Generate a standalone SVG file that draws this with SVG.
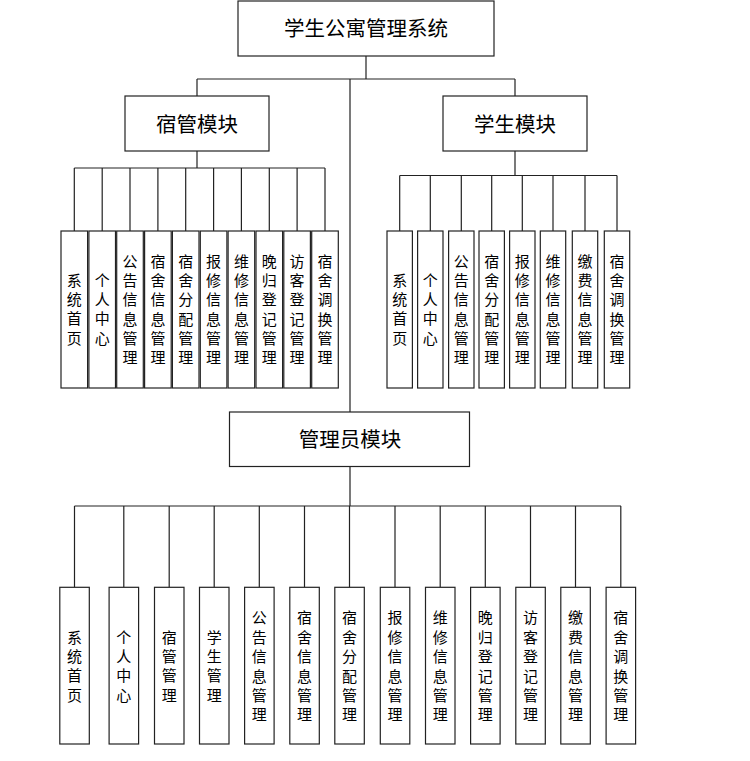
<svg xmlns="http://www.w3.org/2000/svg" width="750" height="761" viewBox="0 0 750 761">
<style>
.box{fill:#fff;stroke:#222;stroke-width:1.2}
.ln{fill:none;stroke:#222;stroke-width:1.2}
.t{font-family:"Noto Sans CJK SC","Noto Sans",sans-serif;font-size:20.5px;fill:#000;text-anchor:middle}
.v{font-family:"Noto Sans CJK SC","Noto Sans",sans-serif;font-size:15px;fill:#000;text-anchor:middle}
</style>
<rect width="750" height="761" fill="#fff"/>
<g id="connectors">
<path class="ln" d="M366 56V79M197 79H515M197 79V96M515 79V96M350 79V412"/>
<path class="ln" d="M197 151V168M74.3 168H325M74.3 168V231M102.2 168V231M130 168V231M157.9 168V231M185.7 168V231M213.6 168V231M241.4 168V231M269.3 168V231M297.1 168V231M325 168V231"/>
<path class="ln" d="M515 151V175.5M399.7 175.5H617M399.7 175.5V231M430.3 175.5V231M461.3 175.5V231M491.7 175.5V231M522.3 175.5V231M553 175.5V231M585 175.5V231M617 175.5V231"/>
<path class="ln" d="M350 466V506M74.5 506H621M74.5 506V587M123.8 506V587M169.2 506V587M214.2 506V587M259.3 506V587M304.5 506V587M349.5 506V587M395 506V587M440.2 506V587M485.3 506V587M530.5 506V587M575.5 506V587M620.8 506V587"/>
</g>
<g id="root"><rect class="box" x="238" y="1" width="256" height="55"/><text class="t" x="366" y="35.6">学生公寓管理系统</text></g>
<g id="dorm"><rect class="box" x="125" y="96" width="144" height="55"/><text class="t" x="197" y="131.6">宿管模块</text></g>
<g id="student"><rect class="box" x="443" y="96" width="144" height="55"/><text class="t" x="515" y="131.6">学生模块</text></g>
<g id="admin"><rect class="box" x="229.5" y="412" width="240" height="54.5"/><text class="t" x="350" y="446.8">管理员模块</text></g>

<g id="d1"><rect class="box" x="61" y="231" width="26.6" height="157"/><text class="v" x="74.3" y="286"><tspan x="74.3">系</tspan><tspan x="74.3" dy="19.2">统</tspan><tspan x="74.3" dy="19.2">首</tspan><tspan x="74.3" dy="19.2">页</tspan></text></g>
<g id="d2"><rect class="box" x="88.9" y="231" width="26.6" height="157"/><text class="v" x="102.2" y="286"><tspan x="102.2">个</tspan><tspan x="102.2" dy="19.2">人</tspan><tspan x="102.2" dy="19.2">中</tspan><tspan x="102.2" dy="19.2">心</tspan></text></g>
<g id="d3"><rect class="box" x="116.7" y="231" width="26.6" height="157"/><text class="v" x="130" y="267"><tspan x="130">公</tspan><tspan x="130" dy="19.2">告</tspan><tspan x="130" dy="19.2">信</tspan><tspan x="130" dy="19.2">息</tspan><tspan x="130" dy="19.2">管</tspan><tspan x="130" dy="19.2">理</tspan></text></g>
<g id="d4"><rect class="box" x="144.6" y="231" width="26.6" height="157"/><text class="v" x="157.9" y="267"><tspan x="157.9">宿</tspan><tspan x="157.9" dy="19.2">舍</tspan><tspan x="157.9" dy="19.2">信</tspan><tspan x="157.9" dy="19.2">息</tspan><tspan x="157.9" dy="19.2">管</tspan><tspan x="157.9" dy="19.2">理</tspan></text></g>
<g id="d5"><rect class="box" x="172.4" y="231" width="26.6" height="157"/><text class="v" x="185.7" y="267"><tspan x="185.7">宿</tspan><tspan x="185.7" dy="19.2">舍</tspan><tspan x="185.7" dy="19.2">分</tspan><tspan x="185.7" dy="19.2">配</tspan><tspan x="185.7" dy="19.2">管</tspan><tspan x="185.7" dy="19.2">理</tspan></text></g>
<g id="d6"><rect class="box" x="200.3" y="231" width="26.6" height="157"/><text class="v" x="213.6" y="267"><tspan x="213.6">报</tspan><tspan x="213.6" dy="19.2">修</tspan><tspan x="213.6" dy="19.2">信</tspan><tspan x="213.6" dy="19.2">息</tspan><tspan x="213.6" dy="19.2">管</tspan><tspan x="213.6" dy="19.2">理</tspan></text></g>
<g id="d7"><rect class="box" x="228.1" y="231" width="26.6" height="157"/><text class="v" x="241.4" y="267"><tspan x="241.4">维</tspan><tspan x="241.4" dy="19.2">修</tspan><tspan x="241.4" dy="19.2">信</tspan><tspan x="241.4" dy="19.2">息</tspan><tspan x="241.4" dy="19.2">管</tspan><tspan x="241.4" dy="19.2">理</tspan></text></g>
<g id="d8"><rect class="box" x="256" y="231" width="26.6" height="157"/><text class="v" x="269.3" y="267"><tspan x="269.3">晚</tspan><tspan x="269.3" dy="19.2">归</tspan><tspan x="269.3" dy="19.2">登</tspan><tspan x="269.3" dy="19.2">记</tspan><tspan x="269.3" dy="19.2">管</tspan><tspan x="269.3" dy="19.2">理</tspan></text></g>
<g id="d9"><rect class="box" x="283.8" y="231" width="26.6" height="157"/><text class="v" x="297.1" y="267"><tspan x="297.1">访</tspan><tspan x="297.1" dy="19.2">客</tspan><tspan x="297.1" dy="19.2">登</tspan><tspan x="297.1" dy="19.2">记</tspan><tspan x="297.1" dy="19.2">管</tspan><tspan x="297.1" dy="19.2">理</tspan></text></g>
<g id="d10"><rect class="box" x="311.7" y="231" width="26.6" height="157"/><text class="v" x="325" y="267"><tspan x="325">宿</tspan><tspan x="325" dy="19.2">舍</tspan><tspan x="325" dy="19.2">调</tspan><tspan x="325" dy="19.2">换</tspan><tspan x="325" dy="19.2">管</tspan><tspan x="325" dy="19.2">理</tspan></text></g>

<g id="s1"><rect class="box" x="387" y="231" width="25.4" height="157"/><text class="v" x="399.7" y="286"><tspan x="399.7">系</tspan><tspan x="399.7" dy="19.2">统</tspan><tspan x="399.7" dy="19.2">首</tspan><tspan x="399.7" dy="19.2">页</tspan></text></g>
<g id="s2"><rect class="box" x="417.6" y="231" width="25.4" height="157"/><text class="v" x="430.3" y="286"><tspan x="430.3">个</tspan><tspan x="430.3" dy="19.2">人</tspan><tspan x="430.3" dy="19.2">中</tspan><tspan x="430.3" dy="19.2">心</tspan></text></g>
<g id="s3"><rect class="box" x="448.6" y="231" width="25.4" height="157"/><text class="v" x="461.3" y="267"><tspan x="461.3">公</tspan><tspan x="461.3" dy="19.2">告</tspan><tspan x="461.3" dy="19.2">信</tspan><tspan x="461.3" dy="19.2">息</tspan><tspan x="461.3" dy="19.2">管</tspan><tspan x="461.3" dy="19.2">理</tspan></text></g>
<g id="s4"><rect class="box" x="479" y="231" width="25.4" height="157"/><text class="v" x="491.7" y="267"><tspan x="491.7">宿</tspan><tspan x="491.7" dy="19.2">舍</tspan><tspan x="491.7" dy="19.2">分</tspan><tspan x="491.7" dy="19.2">配</tspan><tspan x="491.7" dy="19.2">管</tspan><tspan x="491.7" dy="19.2">理</tspan></text></g>
<g id="s5"><rect class="box" x="509.6" y="231" width="25.4" height="157"/><text class="v" x="522.3" y="267"><tspan x="522.3">报</tspan><tspan x="522.3" dy="19.2">修</tspan><tspan x="522.3" dy="19.2">信</tspan><tspan x="522.3" dy="19.2">息</tspan><tspan x="522.3" dy="19.2">管</tspan><tspan x="522.3" dy="19.2">理</tspan></text></g>
<g id="s6"><rect class="box" x="540.3" y="231" width="25.4" height="157"/><text class="v" x="553" y="267"><tspan x="553">维</tspan><tspan x="553" dy="19.2">修</tspan><tspan x="553" dy="19.2">信</tspan><tspan x="553" dy="19.2">息</tspan><tspan x="553" dy="19.2">管</tspan><tspan x="553" dy="19.2">理</tspan></text></g>
<g id="s7"><rect class="box" x="572.3" y="231" width="25.4" height="157"/><text class="v" x="585" y="267"><tspan x="585">缴</tspan><tspan x="585" dy="19.2">费</tspan><tspan x="585" dy="19.2">信</tspan><tspan x="585" dy="19.2">息</tspan><tspan x="585" dy="19.2">管</tspan><tspan x="585" dy="19.2">理</tspan></text></g>
<g id="s8"><rect class="box" x="604.3" y="231" width="25.4" height="157"/><text class="v" x="617" y="267"><tspan x="617">宿</tspan><tspan x="617" dy="19.2">舍</tspan><tspan x="617" dy="19.2">调</tspan><tspan x="617" dy="19.2">换</tspan><tspan x="617" dy="19.2">管</tspan><tspan x="617" dy="19.2">理</tspan></text></g>

<g id="a1"><rect class="box" x="59.8" y="587.3" width="29.5" height="156.7"/><text class="v" x="74.5" y="642.6"><tspan x="74.5">系</tspan><tspan x="74.5" dy="19.4">统</tspan><tspan x="74.5" dy="19.4">首</tspan><tspan x="74.5" dy="19.4">页</tspan></text></g>
<g id="a2"><rect class="box" x="109.1" y="587.3" width="29.5" height="156.7"/><text class="v" x="123.8" y="642.6"><tspan x="123.8">个</tspan><tspan x="123.8" dy="19.4">人</tspan><tspan x="123.8" dy="19.4">中</tspan><tspan x="123.8" dy="19.4">心</tspan></text></g>
<g id="a3"><rect class="box" x="154.5" y="587.3" width="29.5" height="156.7"/><text class="v" x="169.2" y="642.6"><tspan x="169.2">宿</tspan><tspan x="169.2" dy="19.4">管</tspan><tspan x="169.2" dy="19.4">管</tspan><tspan x="169.2" dy="19.4">理</tspan></text></g>
<g id="a4"><rect class="box" x="199.5" y="587.3" width="29.5" height="156.7"/><text class="v" x="214.2" y="642.6"><tspan x="214.2">学</tspan><tspan x="214.2" dy="19.4">生</tspan><tspan x="214.2" dy="19.4">管</tspan><tspan x="214.2" dy="19.4">理</tspan></text></g>
<g id="a5"><rect class="box" x="244.6" y="587.3" width="29.5" height="156.7"/><text class="v" x="259.3" y="623.3"><tspan x="259.3">公</tspan><tspan x="259.3" dy="19.4">告</tspan><tspan x="259.3" dy="19.4">信</tspan><tspan x="259.3" dy="19.4">息</tspan><tspan x="259.3" dy="19.4">管</tspan><tspan x="259.3" dy="19.4">理</tspan></text></g>
<g id="a6"><rect class="box" x="289.8" y="587.3" width="29.5" height="156.7"/><text class="v" x="304.5" y="623.3"><tspan x="304.5">宿</tspan><tspan x="304.5" dy="19.4">舍</tspan><tspan x="304.5" dy="19.4">信</tspan><tspan x="304.5" dy="19.4">息</tspan><tspan x="304.5" dy="19.4">管</tspan><tspan x="304.5" dy="19.4">理</tspan></text></g>
<g id="a7"><rect class="box" x="334.8" y="587.3" width="29.5" height="156.7"/><text class="v" x="349.5" y="623.3"><tspan x="349.5">宿</tspan><tspan x="349.5" dy="19.4">舍</tspan><tspan x="349.5" dy="19.4">分</tspan><tspan x="349.5" dy="19.4">配</tspan><tspan x="349.5" dy="19.4">管</tspan><tspan x="349.5" dy="19.4">理</tspan></text></g>
<g id="a8"><rect class="box" x="380.3" y="587.3" width="29.5" height="156.7"/><text class="v" x="395" y="623.3"><tspan x="395">报</tspan><tspan x="395" dy="19.4">修</tspan><tspan x="395" dy="19.4">信</tspan><tspan x="395" dy="19.4">息</tspan><tspan x="395" dy="19.4">管</tspan><tspan x="395" dy="19.4">理</tspan></text></g>
<g id="a9"><rect class="box" x="425.5" y="587.3" width="29.5" height="156.7"/><text class="v" x="440.2" y="623.3"><tspan x="440.2">维</tspan><tspan x="440.2" dy="19.4">修</tspan><tspan x="440.2" dy="19.4">信</tspan><tspan x="440.2" dy="19.4">息</tspan><tspan x="440.2" dy="19.4">管</tspan><tspan x="440.2" dy="19.4">理</tspan></text></g>
<g id="a10"><rect class="box" x="470.6" y="587.3" width="29.5" height="156.7"/><text class="v" x="485.3" y="623.3"><tspan x="485.3">晚</tspan><tspan x="485.3" dy="19.4">归</tspan><tspan x="485.3" dy="19.4">登</tspan><tspan x="485.3" dy="19.4">记</tspan><tspan x="485.3" dy="19.4">管</tspan><tspan x="485.3" dy="19.4">理</tspan></text></g>
<g id="a11"><rect class="box" x="515.8" y="587.3" width="29.5" height="156.7"/><text class="v" x="530.5" y="623.3"><tspan x="530.5">访</tspan><tspan x="530.5" dy="19.4">客</tspan><tspan x="530.5" dy="19.4">登</tspan><tspan x="530.5" dy="19.4">记</tspan><tspan x="530.5" dy="19.4">管</tspan><tspan x="530.5" dy="19.4">理</tspan></text></g>
<g id="a12"><rect class="box" x="560.8" y="587.3" width="29.5" height="156.7"/><text class="v" x="575.5" y="623.3"><tspan x="575.5">缴</tspan><tspan x="575.5" dy="19.4">费</tspan><tspan x="575.5" dy="19.4">信</tspan><tspan x="575.5" dy="19.4">息</tspan><tspan x="575.5" dy="19.4">管</tspan><tspan x="575.5" dy="19.4">理</tspan></text></g>
<g id="a13"><rect class="box" x="606.1" y="587.3" width="29.5" height="156.7"/><text class="v" x="620.8" y="623.3"><tspan x="620.8">宿</tspan><tspan x="620.8" dy="19.4">舍</tspan><tspan x="620.8" dy="19.4">调</tspan><tspan x="620.8" dy="19.4">换</tspan><tspan x="620.8" dy="19.4">管</tspan><tspan x="620.8" dy="19.4">理</tspan></text></g>
</svg>
